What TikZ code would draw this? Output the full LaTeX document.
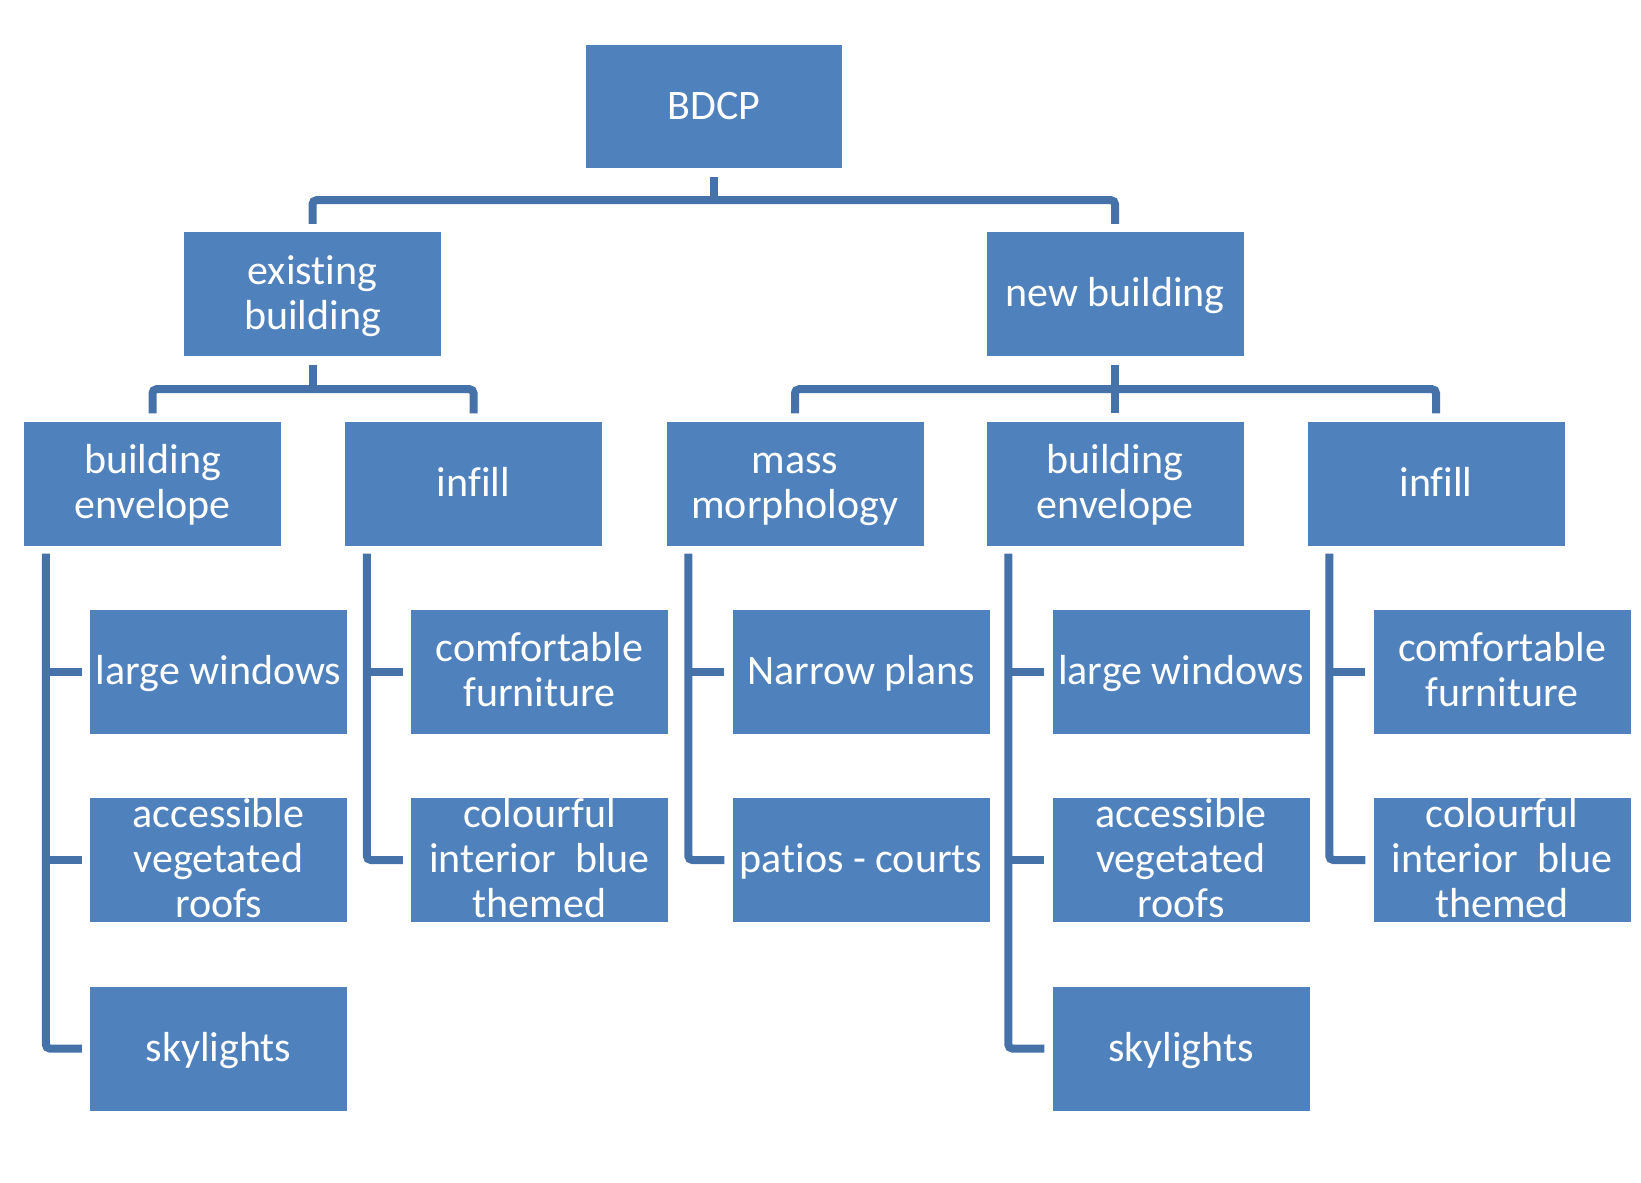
\documentclass[tikz,border=0pt]{standalone}
\usepackage{fontspec}
\setmainfont{Carlito}[Ligatures={NoCommon}]
\usetikzlibrary{calc}
\definecolor{boxblue}{HTML}{4F81BD}
\definecolor{lineblue}{HTML}{4672AA}
\tikzset{
  box/.style={fill=boxblue, draw=none, text=white, inner sep=0pt,
    minimum width=257pt, minimum height=124pt, align=center,
    font=\fontsize{42}{45}\selectfont,
    text height=29.5pt, text depth=4.5pt},
  twolines/.style={text height=74.5pt},
  threelines/.style={text height=119.5pt},
  conn/.style={draw=lineblue, line width=8pt, rounded corners=4pt}
}
\begin{document}
\begin{tikzpicture}[x=1pt,y=-1pt]
\useasboundingbox (0,0) rectangle (1641,1183);
% level 0
\node[box, minimum width=256pt, minimum height=123pt] (bdcp) at (714,106.5) {BDCP};
% level 1
\node[box, twolines] (exist) at (312.5,294) {existing\\building};
\node[box] (newb) at (1115,294) {new building};
% level 2
\node[box, twolines] (be1) at (152.5,483.5) {building\\envelope};
\node[box] (inf1) at (473.5,483.5) {infill};
\node[box, twolines] (mm) at (795,483.5) {mass\\morphology};
\node[box, twolines] (be2) at (1115,483.5) {building\\envelope};
\node[box] (inf2) at (1436,483.5) {infill};
% level 3
\node[box] (lw1) at (218.5,671.5) {large windows};
\node[box, threelines] (avr1) at (218.5,860) {accessible\\vegetated\\roofs};
\node[box] (sky1) at (218.5,1048.5) {skylights};
\node[box, twolines] (cf1) at (539.5,671.5) {comfortable\\furniture};
\node[box, threelines] (ci1) at (539.5,860) {colourful\\interior~ blue\\themed};
\node[box] (np) at (861,671.5) {Narrow plans};
\node[box] (pc) at (861,860) {patios - courts};
\node[box] (lw2) at (1181,671.5) {large windows};
\node[box, threelines] (avr2) at (1181,860) {accessible\\vegetated\\roofs};
\node[box] (sky2) at (1181,1048.5) {skylights};
\node[box, twolines] (cf2) at (1502,671.5) {comfortable\\furniture};
\node[box, threelines] (ci2) at (1502,860) {colourful\\interior~ blue\\themed};
% connectors level 0 -> 1
\coordinate (bar0) at ($(bdcp.south)+(0,32)$);
\draw[conn] ([yshift=-9pt]bdcp.south) -- (bar0);
\draw[conn] ([yshift=8pt]exist.north) |- (bar0) -| ([yshift=8pt]newb.north);
% level 1 -> 2
\coordinate (bar1) at ($(exist.south)+(0,33)$);
\draw[conn] ([yshift=-9pt]exist.south) -- (bar1);
\draw[conn] ([yshift=8pt]be1.north) |- (bar1) -| ([yshift=8pt]inf1.north);
\coordinate (bar2) at ($(newb.south)+(0,33)$);
\draw[conn] ([yshift=-9pt]newb.south) -- ([yshift=8pt]be2.north);
\draw[conn] ([yshift=8pt]mm.north) |- (bar2) -| ([yshift=8pt]inf2.north);
% level 2 -> 3 trunks
\coordinate (t1) at ([xshift=22pt,yshift=-8pt]be1.south west);
\coordinate (t2) at ([xshift=22pt,yshift=-8pt]inf1.south west);
\coordinate (t3) at ([xshift=22pt,yshift=-8pt]mm.south west);
\coordinate (t4) at ([xshift=22pt,yshift=-8pt]be2.south west);
\coordinate (t5) at ([xshift=22pt,yshift=-8pt]inf2.south west);
\draw[conn] (t1) |- ([xshift=-8pt]sky1.west);
\draw[conn] (lw1.west -| t1) -- ([xshift=-8pt]lw1.west);
\draw[conn] (avr1.west -| t1) -- ([xshift=-8pt]avr1.west);
\draw[conn] (t2) |- ([xshift=-8pt]ci1.west);
\draw[conn] (cf1.west -| t2) -- ([xshift=-8pt]cf1.west);
\draw[conn] (t3) |- ([xshift=-8pt]pc.west);
\draw[conn] (np.west -| t3) -- ([xshift=-8pt]np.west);
\draw[conn] (t4) |- ([xshift=-8pt]sky2.west);
\draw[conn] (lw2.west -| t4) -- ([xshift=-8pt]lw2.west);
\draw[conn] (avr2.west -| t4) -- ([xshift=-8pt]avr2.west);
\draw[conn] (t5) |- ([xshift=-8pt]ci2.west);
\draw[conn] (cf2.west -| t5) -- ([xshift=-8pt]cf2.west);
\end{tikzpicture}
\end{document}
